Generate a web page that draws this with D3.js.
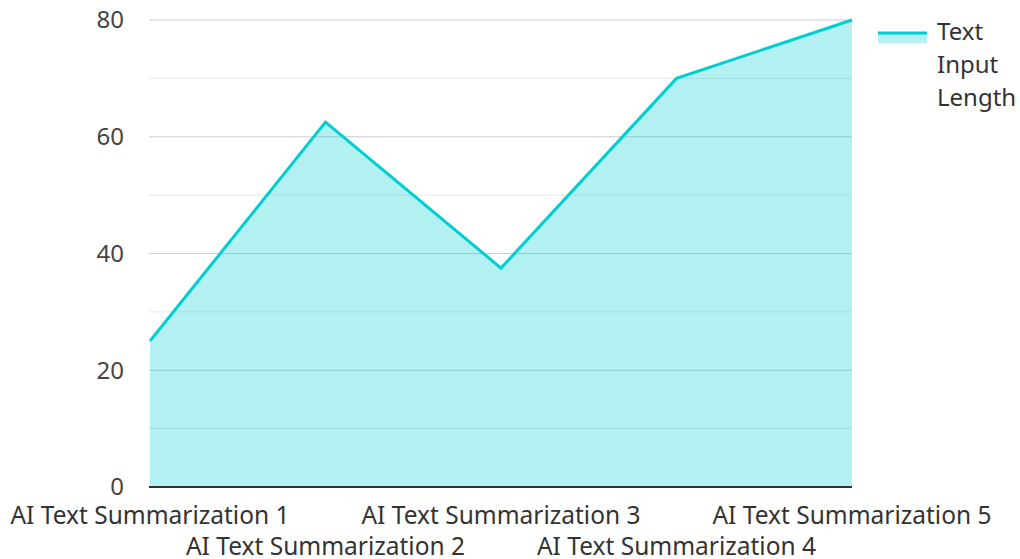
<!DOCTYPE html>
<html><head><meta charset="utf-8">
<script src="https://cdn.jsdelivr.net/npm/d3@7"></script>
<style>body{margin:0;background:#fff;font-family:"Noto Sans","Open Sans",sans-serif;}</style>
</head><body><svg id="c" width="1020" height="559"></svg>
<script>
const categories = ["AI Text Summarization 1","AI Text Summarization 2","AI Text Summarization 3","AI Text Summarization 4","AI Text Summarization 5"];
const values = [25, 62.5, 37.5, 70, 80];
const yTicks = [0, 20, 40, 60, 80];
const yMinor = [10, 30, 50, 70];
const seriesName = ["Text", "Input", "Length"];

const svg = d3.select("#c");
const L = 150, R = 852, T = 20, B = 487;
const x = d3.scalePoint().domain(categories).range([L, R]);
const y = d3.scaleLinear().domain([0, 80]).range([B, T]);

const g = svg.append("g");
g.selectAll(".minor").data(yMinor).enter().append("line")
  .attr("x1", L - 1).attr("x2", R).attr("y1", d => y(d)).attr("y2", d => y(d))
  .attr("stroke", "#e6e6e6").attr("stroke-width", 1);
g.selectAll(".major").data(yTicks.filter(d => d > 0)).enter().append("line")
  .attr("x1", L - 1).attr("x2", R).attr("y1", d => y(d)).attr("y2", d => y(d))
  .attr("stroke", "#cccccc").attr("stroke-width", 1);

svg.append("path").datum(categories.map((c, i) => ({c, v: values[i]})))
  .attr("d", d3.area().x(d => x(d.c)).y0(y(0)).y1(d => y(d.v)))
  .attr("fill", "rgba(0,206,209,0.3)");
svg.append("path").datum(categories.map((c, i) => ({c, v: values[i]})))
  .attr("d", d3.line().x(d => x(d.c)).y(d => y(d.v)))
  .attr("fill", "none").attr("stroke", "#00CED1").attr("stroke-width", 3)
  .attr("stroke-linejoin", "miter");

svg.append("line").attr("x1", L - 1).attr("x2", R).attr("y1", B).attr("y2", B)
  .attr("stroke", "#333").attr("stroke-width", 2);

svg.selectAll(".yl").data(yTicks).enter().append("text")
  .attr("x", 124).attr("y", d => y(d)).attr("dy", "0.35em")
  .attr("text-anchor", "end").attr("font-size", 24).attr("fill", "#444")
  .text(d => d);

svg.selectAll(".xl").data(categories).enter().append("text")
  .attr("x", d => x(d)).attr("y", (d, i) => i % 2 === 0 ? 524 : 555)
  .attr("text-anchor", "middle").attr("font-size", 24.5).attr("fill", "#333")
  .text(d => d);

const lg = svg.append("g");
lg.append("rect").attr("x", 878).attr("y", 32).attr("width", 49).attr("height", 11)
  .attr("fill", "rgba(0,206,209,0.3)");
lg.append("line").attr("x1", 878).attr("x2", 927).attr("y1", 33).attr("y2", 33)
  .attr("stroke", "#00CED1").attr("stroke-width", 3);
lg.selectAll("text").data(seriesName).enter().append("text")
  .attr("x", 937).attr("y", (d, i) => 40 + i * 33)
  .attr("font-size", 24).attr("fill", "#333").text(d => d);
</script></body></html>
